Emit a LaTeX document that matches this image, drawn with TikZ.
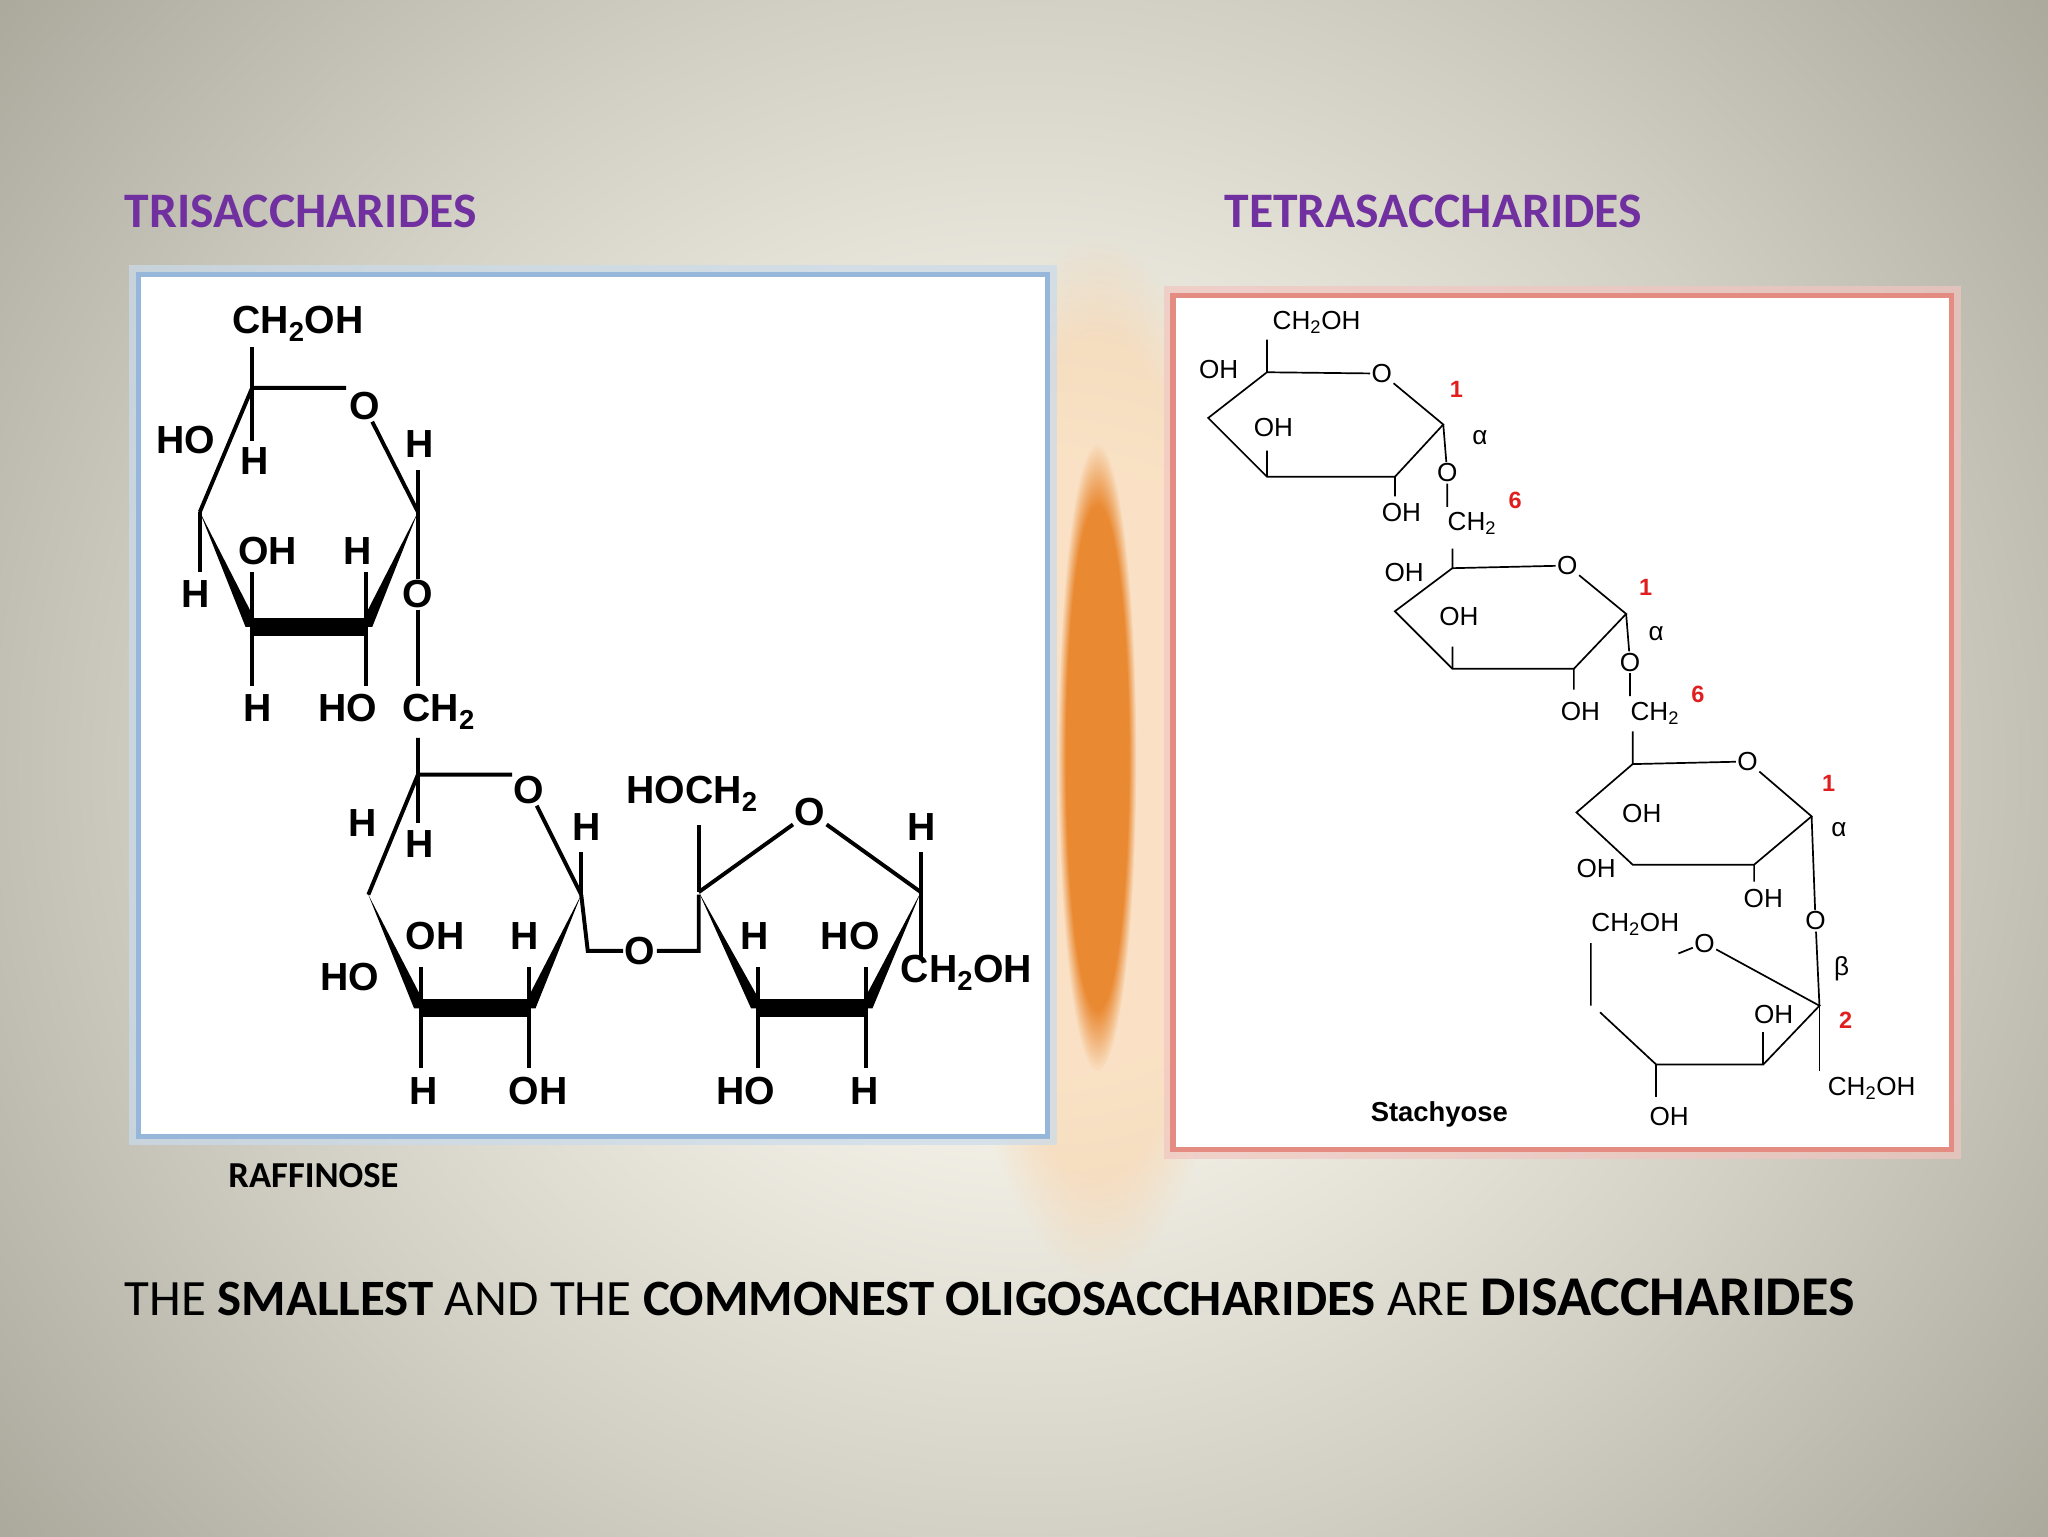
\documentclass[tikz,border=0pt]{standalone}
\usepackage{fontspec}
\setmainfont{Carlito}
\newfontfamily\chemL{Liberation Sans}
\usetikzlibrary{fadings,calc}
\definecolor{bgin}{RGB}{246,244,234}
\definecolor{bgout}{RGB}{165,163,150}
\definecolor{ttl}{RGB}{112,48,160}
\definecolor{bbl}{RGB}{150,182,218}
\definecolor{bpk}{RGB}{228,140,130}
\definecolor{rnum}{RGB}{225,30,30}
\definecolor{glow}{RGB}{232,128,35}
\pgfdeclareradialshading{bgsh}{\pgfpoint{0bp}{0bp}}{color(0bp)=(bgin); color(7bp)=(bgin); color(18bp)=(bgin!55!bgout); color(30bp)=(bgout); color(50bp)=(bgout!85!black)}
\tikzset{
 L/.style={font=\chemL\bfseries\fontsize{30}{30}\selectfont,inner sep=1pt},
 R/.style={font=\chemL\fontsize{20}{20}\selectfont,inner sep=1pt},
 RN/.style={R,text=rnum,font=\chemL\bfseries\fontsize{18}{18}\selectfont},
 lb/.style={line width=3pt},
 rb/.style={line width=1.3pt},
 ttlst/.style={font=\bfseries\fontsize{38}{38}\selectfont,text=ttl}
}
\newcommand{\wdg}[3]{\fill (#1) -- ($(#2)+(-#3,0)$) -- ($(#2)+(#3,0)$) -- cycle;}
\newcommand{\sbs}[1]{\textsubscript{#1}}
\begin{document}
\begin{tikzpicture}[x=1pt,y=-1pt]
\useasboundingbox (0,0) rectangle (1568,1176);
\shade[shading=bgsh] (-100,-250) rectangle (1668,1426);
\fill[orange!40!white,path fading=circle with fuzzy edge 20 percent,opacity=0.45] (840,580) ellipse (120 and 400);
\fill[glow,path fading=circle with fuzzy edge 20 percent,opacity=0.9] (840,580) ellipse (30 and 240);
% boxes
\draw[bbl!50!white,line width=18pt,opacity=0.7] (108,212) rectangle (800,868);
\draw[bbl,line width=8pt] (108,212) rectangle (800,868);
\fill[white] (108,212) rectangle (800,868);
\draw[bpk!50!white,line width=18pt,opacity=0.7] (900,228) rectangle (1492,878);
\draw[bpk,line width=8pt] (900,228) rectangle (1492,878);
\fill[white] (900,228) rectangle (1492,878);
% titles
\node[ttlst,anchor=west] (t1) at (92,162) {TRISACCHARIDES};
\node[ttlst,anchor=west] (t2) at (934,162) {TETRASACCHARIDES};
\node[font=\bfseries\fontsize{28}{28}\selectfont] (raf) at (240,900) {RAFFINOSE};
\node[anchor=west,font=\fontsize{39}{39}\selectfont] (bot) at (92,993) {THE \textbf{SMALLEST} AND THE \textbf{COMMONEST OLIGOSACCHARIDES} ARE \textbf{\fontsize{43}{43}\selectfont DISACCHARIDES}};
% ===== Raffinose ring 1
\coordinate (a5) at (193,297); \coordinate (a1) at (320,392); \coordinate (a2) at (280,480);
\coordinate (a3) at (193,480); \coordinate (a4) at (153,392);
\node[L] (aO) at (279,311) {O};
\draw[lb] (a5) -- (265,297) (aO) -- (a1) (a4) -- (a5);
\wdg{a4}{a3}{5} \wdg{a1}{a2}{5}
\draw[line width=14pt] (a3) -- (a2);
\node[L] (a6) at (228,248) {CH\sbs{2}OH};
\draw[lb] (a5) -- (193,266) (a5) -- (193,338);
\node[L] (aHO) at (142,337) {HO}; \node[L] (aH5) at (195,353) {H};
\node[L] (aH1) at (321,340) {H}; \node[L] (aOH3) at (205,422) {OH};
\node[L] (aH4) at (150,455) {H}; \node[L] (aH2) at (274,422) {H};
\node[L] (aOg) at (320,455) {O}; \node[L] (aH3) at (197,542) {H};
\node[L] (aHO2) at (266,542) {HO}; \node[L] (bCH) at (336,545) {CH\sbs{2}};
\draw[lb] (a4)--(153,438) (a3)--(193,438) (a3)--(193,525) (a2)--(280,438) (a2)--(280,525) (a1)--(320,360) (a1)--(aOg) (aOg)--(320,525);
% ring 2
\coordinate (b5) at (320,593); \coordinate (b1) at (445,685); \coordinate (b2) at (405,772);
\coordinate (b3) at (322,772); \coordinate (b4) at (282,685);
\node[L] (bO) at (405,605) {O};
\draw[lb] (b5) -- (392,593) (bO) -- (b1) (b4) -- (b5) (320,565) -- (b5);
\wdg{b4}{b3}{5} \wdg{b1}{b2}{5}
\draw[line width=14pt] (b3) -- (b2);
\node[L] (bH4) at (278,630) {H}; \node[L] (bH5) at (321,646) {H};
\node[L] (bH1) at (449,633) {H}; \node[L] (bOH3) at (333,717) {OH};
\node[L] (bH2) at (402,717) {H}; \node[L] (bHO) at (268,748) {HO};
\node[L] (bH3) at (324,835) {H}; \node[L] (bOH2) at (412,835) {OH};
\draw[lb] (b5)--(320,630) (b1)--(445,652) (b3)--(322,740) (b3)--(322,818) (b2)--(405,740) (b2)--(405,818);
\node[L] (gO) at (490,728) {O};
\draw[lb] (b1) -- (450,728) -- (gO) -- (535,728) -- (535,685);
% fructose
\coordinate (c2) at (535,683); \coordinate (c5) at (705,683); \coordinate (c4) at (663,772); \coordinate (c3) at (580,772);
\node[L] (cO) at (620,622) {O};
\draw[lb] (c2) -- (cO) -- (c5);
\wdg{c2}{c3}{5} \wdg{c5}{c4}{5}
\draw[line width=14pt] (c3) -- (c4);
\node[L] (c1) at (530,608) {HOCH\sbs{2}}; \node[L] (cH5) at (706,633) {H};
\node[L] (cH3) at (578,717) {H}; \node[L] (cHO4) at (651,717) {HO};
\node[L] (c6) at (740,745) {CH\sbs{2}OH}; \node[L] (cHO3) at (571,835) {HO}; \node[L] (cH4) at (662,835) {H};
\draw[lb] (c2)--(535,632) (c5)--(705,652) (c5)--(705,735) (c3)--(580,740) (c3)--(580,818) (c4)--(663,740) (c4)--(663,818);
% ===== Stachyose
\coordinate (p5) at (970,285); \coordinate (p1) at (1105,325); \coordinate (p2) at (1068,365); \coordinate (p3) at (970,365); \coordinate (p4) at (925,320);
\node[R] (pO) at (1058,286) {O};
\draw[rb] (p5)--(pO)--(p1)--(p2)--(p3)--(p4)--(p5);
\node[R] (p6) at (1008,247) {CH\sbs{2}OH}; \node[R] (pOH4) at (933,283) {OH}; \node[R] (pOH3) at (975,327) {OH};
\node[RN] (pn) at (1115,298) {1}; \node[R] (pa) at (1133,335) {α};
\node[R] (pOg) at (1108,362) {O}; \node[R] (qCH) at (1127,401) {CH\sbs{2}}; \node[R] (pOH2) at (1073,392) {OH}; \node[RN] (q6) at (1160,383) {6};
\draw[rb] (p5)--(970,260) (p1)--(pOg) (pOg)--(1108,388) (p3)--(970,345) (p2)--(1068,380);
\coordinate (q5) at (1112,435); \coordinate (q1) at (1245,470); \coordinate (q2) at (1205,512); \coordinate (q3) at (1112,512); \coordinate (q4) at (1068,468);
\node[R] (qO) at (1200,433) {O};
\draw[rb] (q5)--(qO)--(q1)--(q2)--(q3)--(q4)--(q5) (1112,420) -- (q5);
\node[R] (qOH4) at (1075,438) {OH}; \node[R] (qOH3) at (1117,472) {OH};
\node[RN] (qn) at (1260,450) {1}; \node[R] (qa) at (1268,485) {α};
\node[R] (qOg) at (1248,507) {O}; \node[R] (rCH) at (1267,546) {CH\sbs{2}}; \node[R] (qOH2) at (1210,545) {OH}; \node[RN] (r6) at (1300,532) {6};
\draw[rb] (q1)--(qOg) (qOg)--(1248,533) (q3)--(1112,495) (q2)--(1205,528);
\coordinate (r5) at (1250,585); \coordinate (r1) at (1387,625); \coordinate (r2) at (1343,662); \coordinate (r3) at (1250,662); \coordinate (r4) at (1207,622);
\node[R] (rO) at (1338,583) {O};
\draw[rb] (r5)--(rO)--(r1)--(r2)--(r3)--(r4)--(r5) (1250,560) -- (r5);
\node[R] (rOH3) at (1257,623) {OH}; \node[R] (rOH4) at (1222,665) {OH}; \node[R] (rOH2) at (1350,688) {OH};
\node[RN] (rn) at (1400,600) {1}; \node[R] (ra) at (1408,635) {α};
\node[R] (rOg) at (1390,705) {O}; \node[R] (sb) at (1410,742) {β};
\draw[rb] (r1)--(rOg) (rOg)--(1393,770) (r2)--(1343,675);
\coordinate (s5) at (1225,775); \coordinate (s4) at (1268,815); \coordinate (s3) at (1350,815); \coordinate (s2) at (1393,770);
\node[R] (sO) at (1305,722) {O};
\draw[rb] (s5)--(s4)--(s3)--(s2)--(sO)--(1285,730) (1218,722)--(1218,770);
\node[R] (s1) at (1252,708) {CH\sbs{2}OH}; \node[R] (sOH) at (1358,777) {OH}; \node[RN] (sn) at (1413,781) {2};
\node[R] (s6) at (1433,833) {CH\sbs{2}OH}; \node[R] (sOH4) at (1278,855) {OH};
\draw[rb] (s2)--(1393,820) (s4)--(1268,840) (s3)--(1350,790);
\node[font=\chemL\bfseries\fontsize{21}{21}\selectfont] (st) at (1102,853) {Stachyose};
\end{tikzpicture}
\end{document}
